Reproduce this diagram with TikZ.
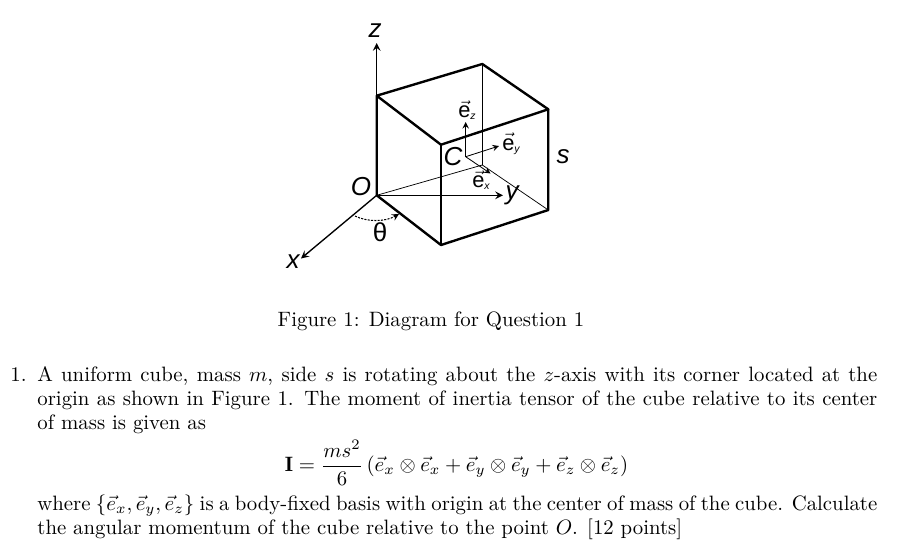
\documentclass[tikz,border=0pt]{standalone}
\usepackage{fontspec}
\newfontfamily\figfont{Liberation Sans}
\newcommand{\figlab}[1]{{\fontsize{12.5}{14}\figfont\itshape #1}}
\newcommand{\basisvec}[1]{$\vec{\hbox{\fontsize{10.5}{12}\figfont e}}$\raisebox{-1pt}{\fontsize{5}{6}\figfont\itshape #1}}
\tikzset{
  edge/.style={line width=1.15pt,line join=round},
  fine/.style={line width=0.35pt},
  axis/.style={line width=0.65pt,->,>=stealth},
  basis/.style={line width=0.4pt,->,>=stealth},
  txt/.style={inner sep=0pt,anchor=north west,text width=403.8pt,align=justify,
    execute at begin node={\baselineskip=11.54pt}}
}

\begin{document}
\begin{tikzpicture}[x=0.48077pt,y=-0.48077pt]
   \useasboundingbox (0,0) rectangle (913,552);
   \coordinate (O)  at (376.7,195.3);
   \coordinate (A)  at (376.7,95.7);
   \coordinate (B)  at (482.3,64);
   \coordinate (D)  at (548.3,109.3);
   \coordinate (E)  at (441,144.7);
   \coordinate (F)  at (441,245);
   \coordinate (G)  at (548.3,210);
   \coordinate (H)  at (482.3,165);
   \coordinate (C)  at (465.7,156.7);
   \coordinate (ztip) at (376.7,43);
   \coordinate (xtip) at (301,258.5);
   \coordinate (ytip) at (503,195.3);
   \coordinate (eztip) at (465.7,122);
   \coordinate (eytip) at (499,146);
   \coordinate (extip) at (490.5,173.5);
   \coordinate (arcs) at (355,216);
   \coordinate (arce) at (399,214);
   \draw[fine] (O) -- (H) -- (G);
   \draw[fine] (B) -- (H);
   \draw[axis] (O) -- (ztip);
   \draw[axis] (O) -- (xtip);
   \draw[axis] (O) -- (ytip);
   \draw[edge] (O) -- (A) -- (B) -- (D) -- (E) -- (A);
   \draw[edge] (O) -- (F) -- (G) -- (D);
   \draw[edge] (E) -- (F);
   \draw[basis] (C) -- (eztip);
   \draw[basis] (C) -- (eytip);
   \draw[basis] (C) -- (extip);
   \draw[line width=0.5pt,dash pattern=on 1pt off 0.6pt,->,>=stealth] (arcs) .. controls (367,222) and (385,222) .. (arce);
   \node (zlab) at (375,31) {\figlab{z}};
   \node (xlab) at (293,262) {\figlab{x}};
   \node (ylab) at (512,195) {\figlab{y}};
   \node (Olab) at (361,187) {\figlab{O}};
   \node (Clab) at (453,157) {\figlab{C}};
   \node (slab) at (563,157) {\figlab{s}};
   \node (thlab) at (380,232) {{\fontsize{12.5}{14}\figfont θ}};
   \node[inner sep=0pt] (ezlab) at (467,110) {\basisvec{z}};
   \node[inner sep=0pt] (eylab) at (511,144) {\basisvec{y}};
   \node[inner sep=0pt] (exlab) at (481,180) {\basisvec{x}};
   \node[inner sep=0pt,anchor=base] (caption) at (431,326) {Figure 1: Diagram for Question 1};
   \node[inner sep=0pt,anchor=base west] (num) at (10,381) {1.};
   \node[txt] (para1) at (37,366)
     {A uniform cube, mass $m$, side $s$ is rotating about the $z$-axis with its corner located at the origin as shown in Figure 1. The moment of inertia tensor of the cube relative to its center of mass is given as};
   \node[inner sep=0pt] (eqn) at (456.5,463)
     {$\displaystyle \mathbf{I}=\frac{ms^2}{6}\left(\vec{e}_x\otimes\vec{e}_x+\vec{e}_y\otimes\vec{e}_y+\vec{e}_z\otimes\vec{e}_z\right)$};
   \node[txt] (para2) at (37,494)
     {where $\{\vec{e}_x,\vec{e}_y,\vec{e}_z\}$ is a body-fixed basis with origin at the center of mass of the cube. Calculate the angular momentum of the cube relative to the point $O$. [12 points]};
\end{tikzpicture}
\end{document}
